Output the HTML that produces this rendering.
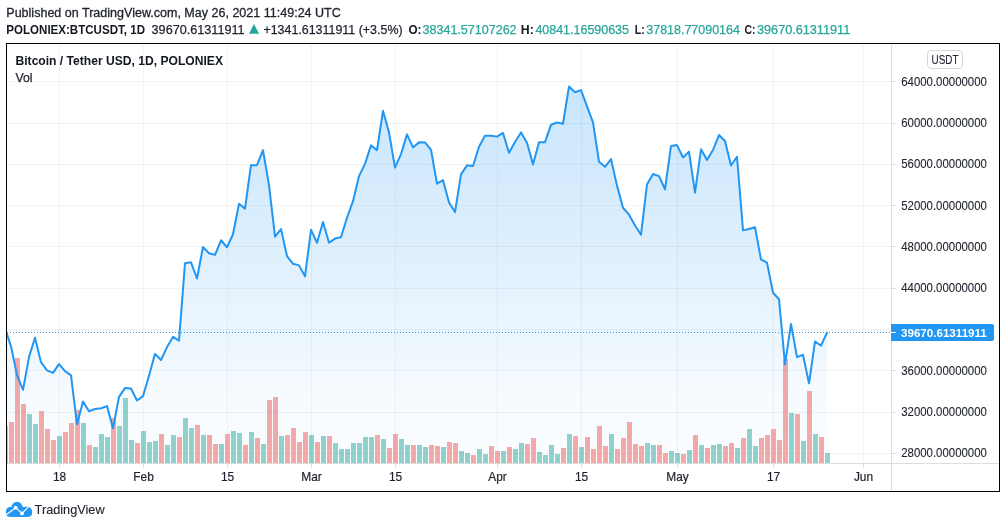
<!DOCTYPE html>
<html><head><meta charset="utf-8"><style>
html,body{margin:0;padding:0;background:#fff;width:1006px;height:528px;overflow:hidden}
svg{display:block;will-change:transform}
text{font-family:"Liberation Sans",sans-serif}
</style></head><body>
<svg width="1006" height="528" viewBox="0 0 1006 528">
<defs>
<linearGradient id="fill" x1="0" y1="44" x2="0" y2="462" gradientUnits="userSpaceOnUse">
<stop offset="0" stop-color="#2196f3" stop-opacity="0.27"/>
<stop offset="0.481" stop-color="#2196f3" stop-opacity="0.15"/>
<stop offset="0.84" stop-color="#2196f3" stop-opacity="0.042"/>
<stop offset="1" stop-color="#2196f3" stop-opacity="0.015"/>
</linearGradient>
<clipPath id="pane"><rect x="7" y="44" width="884" height="419"/></clipPath>
</defs>

<text x="6.3" y="16.8" font-size="12.5" fill="#1e222d" stroke="#1e222d" stroke-width="0.3" textLength="334.5" lengthAdjust="spacingAndGlyphs">Published on TradingView.com, May 26, 2021 11:49:24 UTC</text>
<text x="6.3" y="33.8" font-size="12.3" font-weight="bold" fill="#131722" textLength="138.7" lengthAdjust="spacingAndGlyphs">POLONIEX:BTCUSDT, 1D</text>
<text x="151.6" y="33.8" font-size="12.3" fill="#1e222d" stroke="#1e222d" stroke-width="0.25" textLength="93" lengthAdjust="spacingAndGlyphs">39670.61311911</text>
<text x="263.4" y="33.8" font-size="12.3" fill="#1e222d" stroke="#1e222d" stroke-width="0.25" textLength="139.2" lengthAdjust="spacingAndGlyphs">+1341.61311911 (+3.5%)</text>
<text x="408.5" y="33.8" font-size="12.3" font-weight="bold" fill="#131722" textLength="13" lengthAdjust="spacingAndGlyphs">O:</text>
<text x="422.5" y="33.8" font-size="12.3" fill="#26a69a" stroke="#26a69a" stroke-width="0.25" textLength="94.1" lengthAdjust="spacingAndGlyphs">38341.57107262</text>
<text x="520.8" y="33.8" font-size="12.3" font-weight="bold" fill="#131722" textLength="13" lengthAdjust="spacingAndGlyphs">H:</text>
<text x="535.4" y="33.8" font-size="12.3" fill="#26a69a" stroke="#26a69a" stroke-width="0.25" textLength="93.6" lengthAdjust="spacingAndGlyphs">40841.16590635</text>
<text x="634.8" y="33.8" font-size="12.3" font-weight="bold" fill="#131722" textLength="10" lengthAdjust="spacingAndGlyphs">L:</text>
<text x="646.3" y="33.8" font-size="12.3" fill="#26a69a" stroke="#26a69a" stroke-width="0.25" textLength="93.6" lengthAdjust="spacingAndGlyphs">37818.77090164</text>
<text x="744.6" y="33.8" font-size="12.3" font-weight="bold" fill="#131722" textLength="11" lengthAdjust="spacingAndGlyphs">C:</text>
<text x="757" y="33.8" font-size="12.3" fill="#26a69a" stroke="#26a69a" stroke-width="0.25" textLength="93.2" lengthAdjust="spacingAndGlyphs">39670.61311911</text>
<path d="M249 33.8 L253.9 24 L259.1 33.8 Z" fill="#26a69a"/>
<rect x="6.5" y="43.5" width="993" height="448" fill="none" stroke="#000" stroke-width="1"/>
<line x1="59.5" y1="44" x2="59.5" y2="463" stroke="rgba(42,46,57,0.06)"/>
<line x1="143.5" y1="44" x2="143.5" y2="463" stroke="rgba(42,46,57,0.06)"/>
<line x1="227.5" y1="44" x2="227.5" y2="463" stroke="rgba(42,46,57,0.06)"/>
<line x1="311.5" y1="44" x2="311.5" y2="463" stroke="rgba(42,46,57,0.06)"/>
<line x1="395.5" y1="44" x2="395.5" y2="463" stroke="rgba(42,46,57,0.06)"/>
<line x1="497.5" y1="44" x2="497.5" y2="463" stroke="rgba(42,46,57,0.06)"/>
<line x1="581.5" y1="44" x2="581.5" y2="463" stroke="rgba(42,46,57,0.06)"/>
<line x1="677.5" y1="44" x2="677.5" y2="463" stroke="rgba(42,46,57,0.06)"/>
<line x1="773.5" y1="44" x2="773.5" y2="463" stroke="rgba(42,46,57,0.06)"/>
<line x1="863.5" y1="44" x2="863.5" y2="463" stroke="rgba(42,46,57,0.06)"/>
<line x1="7" y1="81.5" x2="891" y2="81.5" stroke="rgba(42,46,57,0.06)"/>
<line x1="7" y1="123.5" x2="891" y2="123.5" stroke="rgba(42,46,57,0.06)"/>
<line x1="7" y1="164.5" x2="891" y2="164.5" stroke="rgba(42,46,57,0.06)"/>
<line x1="7" y1="205.5" x2="891" y2="205.5" stroke="rgba(42,46,57,0.06)"/>
<line x1="7" y1="246.5" x2="891" y2="246.5" stroke="rgba(42,46,57,0.06)"/>
<line x1="7" y1="288.5" x2="891" y2="288.5" stroke="rgba(42,46,57,0.06)"/>
<line x1="7" y1="329.5" x2="891" y2="329.5" stroke="rgba(42,46,57,0.06)"/>
<line x1="7" y1="370.5" x2="891" y2="370.5" stroke="rgba(42,46,57,0.06)"/>
<line x1="7" y1="412.5" x2="891" y2="412.5" stroke="rgba(42,46,57,0.06)"/>
<line x1="7" y1="453.5" x2="891" y2="453.5" stroke="rgba(42,46,57,0.06)"/>
<g clip-path="url(#pane)">
<rect x="3" y="426" width="5" height="37" fill="rgba(239,83,80,0.5)"/>
<rect x="9" y="422" width="5" height="41" fill="rgba(239,83,80,0.5)"/>
<rect x="15" y="358" width="5" height="105" fill="rgba(239,83,80,0.5)"/>
<rect x="21" y="404" width="5" height="59" fill="rgba(239,83,80,0.5)"/>
<rect x="27" y="414" width="5" height="49" fill="rgba(38,166,154,0.5)"/>
<rect x="33" y="424" width="5" height="39" fill="rgba(38,166,154,0.5)"/>
<rect x="39" y="411" width="5" height="52" fill="rgba(239,83,80,0.5)"/>
<rect x="45" y="429" width="5" height="34" fill="rgba(239,83,80,0.5)"/>
<rect x="51" y="440" width="5" height="23" fill="rgba(239,83,80,0.5)"/>
<rect x="57" y="436" width="5" height="27" fill="rgba(38,166,154,0.5)"/>
<rect x="63" y="432" width="5" height="31" fill="rgba(239,83,80,0.5)"/>
<rect x="69" y="423" width="5" height="40" fill="rgba(239,83,80,0.5)"/>
<rect x="75" y="410" width="5" height="53" fill="rgba(239,83,80,0.5)"/>
<rect x="81" y="423" width="5" height="40" fill="rgba(38,166,154,0.5)"/>
<rect x="87" y="445" width="5" height="18" fill="rgba(239,83,80,0.5)"/>
<rect x="93" y="447" width="5" height="16" fill="rgba(38,166,154,0.5)"/>
<rect x="99" y="434" width="5" height="29" fill="rgba(38,166,154,0.5)"/>
<rect x="105" y="437" width="5" height="26" fill="rgba(38,166,154,0.5)"/>
<rect x="111" y="418" width="5" height="45" fill="rgba(239,83,80,0.5)"/>
<rect x="117" y="426" width="5" height="37" fill="rgba(38,166,154,0.5)"/>
<rect x="123" y="398" width="5" height="65" fill="rgba(38,166,154,0.5)"/>
<rect x="129" y="440" width="5" height="23" fill="rgba(38,166,154,0.5)"/>
<rect x="135" y="443" width="5" height="20" fill="rgba(239,83,80,0.5)"/>
<rect x="141" y="431" width="5" height="32" fill="rgba(38,166,154,0.5)"/>
<rect x="147" y="442" width="5" height="21" fill="rgba(38,166,154,0.5)"/>
<rect x="153" y="441" width="5" height="22" fill="rgba(38,166,154,0.5)"/>
<rect x="159" y="434" width="5" height="29" fill="rgba(239,83,80,0.5)"/>
<rect x="165" y="445" width="5" height="18" fill="rgba(38,166,154,0.5)"/>
<rect x="171" y="435" width="5" height="28" fill="rgba(38,166,154,0.5)"/>
<rect x="177" y="437" width="5" height="26" fill="rgba(239,83,80,0.5)"/>
<rect x="183" y="418" width="5" height="45" fill="rgba(38,166,154,0.5)"/>
<rect x="189" y="428" width="5" height="35" fill="rgba(38,166,154,0.5)"/>
<rect x="195" y="425" width="5" height="38" fill="rgba(239,83,80,0.5)"/>
<rect x="201" y="435" width="5" height="28" fill="rgba(38,166,154,0.5)"/>
<rect x="207" y="435" width="5" height="28" fill="rgba(239,83,80,0.5)"/>
<rect x="213" y="444" width="5" height="19" fill="rgba(239,83,80,0.5)"/>
<rect x="219" y="444" width="5" height="19" fill="rgba(38,166,154,0.5)"/>
<rect x="225" y="434" width="5" height="29" fill="rgba(239,83,80,0.5)"/>
<rect x="231" y="431" width="5" height="32" fill="rgba(38,166,154,0.5)"/>
<rect x="237" y="433" width="5" height="30" fill="rgba(38,166,154,0.5)"/>
<rect x="243" y="445" width="5" height="18" fill="rgba(239,83,80,0.5)"/>
<rect x="249" y="432" width="5" height="31" fill="rgba(38,166,154,0.5)"/>
<rect x="255" y="438" width="5" height="25" fill="rgba(239,83,80,0.5)"/>
<rect x="261" y="444" width="5" height="19" fill="rgba(38,166,154,0.5)"/>
<rect x="267" y="400" width="5" height="63" fill="rgba(239,83,80,0.5)"/>
<rect x="273" y="397" width="5" height="66" fill="rgba(239,83,80,0.5)"/>
<rect x="279" y="436" width="5" height="27" fill="rgba(38,166,154,0.5)"/>
<rect x="285" y="435" width="5" height="28" fill="rgba(239,83,80,0.5)"/>
<rect x="291" y="428" width="5" height="35" fill="rgba(239,83,80,0.5)"/>
<rect x="297" y="442" width="5" height="21" fill="rgba(239,83,80,0.5)"/>
<rect x="303" y="432" width="5" height="31" fill="rgba(239,83,80,0.5)"/>
<rect x="309" y="435" width="5" height="28" fill="rgba(38,166,154,0.5)"/>
<rect x="315" y="442" width="5" height="21" fill="rgba(239,83,80,0.5)"/>
<rect x="321" y="436" width="5" height="27" fill="rgba(38,166,154,0.5)"/>
<rect x="327" y="436" width="5" height="27" fill="rgba(239,83,80,0.5)"/>
<rect x="333" y="443" width="5" height="20" fill="rgba(38,166,154,0.5)"/>
<rect x="339" y="449" width="5" height="14" fill="rgba(38,166,154,0.5)"/>
<rect x="345" y="449" width="5" height="14" fill="rgba(38,166,154,0.5)"/>
<rect x="351" y="443" width="5" height="20" fill="rgba(38,166,154,0.5)"/>
<rect x="357" y="443" width="5" height="20" fill="rgba(38,166,154,0.5)"/>
<rect x="363" y="437" width="5" height="26" fill="rgba(38,166,154,0.5)"/>
<rect x="369" y="437" width="5" height="26" fill="rgba(38,166,154,0.5)"/>
<rect x="375" y="435" width="5" height="28" fill="rgba(239,83,80,0.5)"/>
<rect x="381" y="439" width="5" height="24" fill="rgba(38,166,154,0.5)"/>
<rect x="387" y="448" width="5" height="15" fill="rgba(239,83,80,0.5)"/>
<rect x="393" y="434" width="5" height="29" fill="rgba(239,83,80,0.5)"/>
<rect x="399" y="439" width="5" height="24" fill="rgba(38,166,154,0.5)"/>
<rect x="405" y="445" width="5" height="18" fill="rgba(38,166,154,0.5)"/>
<rect x="411" y="445" width="5" height="18" fill="rgba(239,83,80,0.5)"/>
<rect x="417" y="445" width="5" height="18" fill="rgba(38,166,154,0.5)"/>
<rect x="423" y="447" width="5" height="16" fill="rgba(38,166,154,0.5)"/>
<rect x="429" y="445" width="5" height="18" fill="rgba(239,83,80,0.5)"/>
<rect x="435" y="446" width="5" height="17" fill="rgba(239,83,80,0.5)"/>
<rect x="441" y="447" width="5" height="16" fill="rgba(38,166,154,0.5)"/>
<rect x="447" y="442" width="5" height="21" fill="rgba(239,83,80,0.5)"/>
<rect x="453" y="443" width="5" height="20" fill="rgba(239,83,80,0.5)"/>
<rect x="459" y="451" width="5" height="12" fill="rgba(38,166,154,0.5)"/>
<rect x="465" y="453" width="5" height="10" fill="rgba(38,166,154,0.5)"/>
<rect x="471" y="455" width="5" height="8" fill="rgba(239,83,80,0.5)"/>
<rect x="477" y="449" width="5" height="14" fill="rgba(38,166,154,0.5)"/>
<rect x="483" y="454" width="5" height="9" fill="rgba(38,166,154,0.5)"/>
<rect x="489" y="446" width="5" height="17" fill="rgba(239,83,80,0.5)"/>
<rect x="495" y="451" width="5" height="12" fill="rgba(239,83,80,0.5)"/>
<rect x="501" y="451" width="5" height="12" fill="rgba(38,166,154,0.5)"/>
<rect x="507" y="447" width="5" height="16" fill="rgba(239,83,80,0.5)"/>
<rect x="513" y="449" width="5" height="14" fill="rgba(38,166,154,0.5)"/>
<rect x="519" y="443" width="5" height="20" fill="rgba(38,166,154,0.5)"/>
<rect x="525" y="444" width="5" height="19" fill="rgba(239,83,80,0.5)"/>
<rect x="531" y="438" width="5" height="25" fill="rgba(239,83,80,0.5)"/>
<rect x="537" y="452" width="5" height="11" fill="rgba(38,166,154,0.5)"/>
<rect x="543" y="455" width="5" height="8" fill="rgba(38,166,154,0.5)"/>
<rect x="549" y="445" width="5" height="18" fill="rgba(38,166,154,0.5)"/>
<rect x="555" y="454" width="5" height="9" fill="rgba(38,166,154,0.5)"/>
<rect x="561" y="448" width="5" height="15" fill="rgba(239,83,80,0.5)"/>
<rect x="567" y="434" width="5" height="29" fill="rgba(38,166,154,0.5)"/>
<rect x="573" y="436" width="5" height="27" fill="rgba(239,83,80,0.5)"/>
<rect x="579" y="447" width="5" height="16" fill="rgba(38,166,154,0.5)"/>
<rect x="585" y="437" width="5" height="26" fill="rgba(239,83,80,0.5)"/>
<rect x="591" y="449" width="5" height="14" fill="rgba(239,83,80,0.5)"/>
<rect x="597" y="426" width="5" height="37" fill="rgba(239,83,80,0.5)"/>
<rect x="603" y="446" width="5" height="17" fill="rgba(239,83,80,0.5)"/>
<rect x="609" y="434" width="5" height="29" fill="rgba(38,166,154,0.5)"/>
<rect x="615" y="449" width="5" height="14" fill="rgba(239,83,80,0.5)"/>
<rect x="621" y="438" width="5" height="25" fill="rgba(239,83,80,0.5)"/>
<rect x="627" y="422" width="5" height="41" fill="rgba(239,83,80,0.5)"/>
<rect x="633" y="444" width="5" height="19" fill="rgba(239,83,80,0.5)"/>
<rect x="639" y="446" width="5" height="17" fill="rgba(239,83,80,0.5)"/>
<rect x="645" y="443" width="5" height="20" fill="rgba(38,166,154,0.5)"/>
<rect x="651" y="445" width="5" height="18" fill="rgba(38,166,154,0.5)"/>
<rect x="657" y="445" width="5" height="18" fill="rgba(239,83,80,0.5)"/>
<rect x="663" y="453" width="5" height="10" fill="rgba(239,83,80,0.5)"/>
<rect x="669" y="451" width="5" height="12" fill="rgba(38,166,154,0.5)"/>
<rect x="675" y="453" width="5" height="10" fill="rgba(38,166,154,0.5)"/>
<rect x="681" y="454" width="5" height="9" fill="rgba(239,83,80,0.5)"/>
<rect x="687" y="450" width="5" height="13" fill="rgba(38,166,154,0.5)"/>
<rect x="693" y="435" width="5" height="28" fill="rgba(239,83,80,0.5)"/>
<rect x="699" y="445" width="5" height="18" fill="rgba(38,166,154,0.5)"/>
<rect x="705" y="448" width="5" height="15" fill="rgba(239,83,80,0.5)"/>
<rect x="711" y="445" width="5" height="18" fill="rgba(38,166,154,0.5)"/>
<rect x="717" y="444" width="5" height="19" fill="rgba(38,166,154,0.5)"/>
<rect x="723" y="446" width="5" height="17" fill="rgba(239,83,80,0.5)"/>
<rect x="729" y="443" width="5" height="20" fill="rgba(239,83,80,0.5)"/>
<rect x="735" y="448" width="5" height="15" fill="rgba(38,166,154,0.5)"/>
<rect x="741" y="438" width="5" height="25" fill="rgba(239,83,80,0.5)"/>
<rect x="747" y="429" width="5" height="34" fill="rgba(38,166,154,0.5)"/>
<rect x="753" y="446" width="5" height="17" fill="rgba(38,166,154,0.5)"/>
<rect x="759" y="438" width="5" height="25" fill="rgba(239,83,80,0.5)"/>
<rect x="765" y="435" width="5" height="28" fill="rgba(239,83,80,0.5)"/>
<rect x="771" y="429" width="5" height="34" fill="rgba(239,83,80,0.5)"/>
<rect x="777" y="440" width="5" height="23" fill="rgba(239,83,80,0.5)"/>
<rect x="783" y="359" width="5" height="104" fill="rgba(239,83,80,0.5)"/>
<rect x="789" y="413" width="5" height="50" fill="rgba(38,166,154,0.5)"/>
<rect x="795" y="414" width="5" height="49" fill="rgba(239,83,80,0.5)"/>
<rect x="801" y="441" width="5" height="22" fill="rgba(38,166,154,0.5)"/>
<rect x="807" y="391" width="5" height="72" fill="rgba(239,83,80,0.5)"/>
<rect x="813" y="434" width="5" height="29" fill="rgba(38,166,154,0.5)"/>
<rect x="819" y="437" width="5" height="26" fill="rgba(239,83,80,0.5)"/>
<rect x="825" y="453" width="5" height="10" fill="rgba(38,166,154,0.5)"/>
<path d="M5,328.21 L11,346.32 L17,375.15 L23,389.84 L29,357.07 L35,337.73 L41,362.14 L47,370.32 L53,372.81 L59,364.15 L65,371.15 L71,375.33 L77,424.14 L83,401.61 L89,411.30 L95,409.01 L101,408.22 L107,406.12 L113,428.20 L119,396.85 L125,388.07 L131,388.55 L137,400.49 L143,396.11 L149,375.73 L155,353.85 L161,360.00 L167,347.11 L173,336.92 L179,340.67 L185,263.31 L191,262.36 L197,278.51 L203,247.01 L209,253.19 L215,254.91 L221,240.26 L227,247.23 L233,234.28 L239,203.79 L245,208.65 L251,165.16 L257,165.17 L263,150.24 L269,185.17 L275,236.73 L281,229.11 L287,256.03 L293,263.83 L299,265.39 L305,276.25 L311,229.81 L317,242.76 L323,222.04 L329,242.77 L335,238.59 L341,237.24 L347,217.74 L353,201.19 L359,176.15 L365,163.92 L371,145.35 L377,150.24 L383,110.82 L389,132.48 L395,167.56 L401,154.09 L407,134.34 L413,147.40 L419,142.36 L425,142.40 L431,149.76 L437,183.70 L443,180.14 L449,202.43 L455,212.09 L461,174.32 L467,165.37 L473,165.95 L479,146.82 L485,135.85 L491,135.85 L497,136.62 L503,132.93 L509,152.82 L515,141.98 L521,132.41 L527,142.75 L533,164.39 L539,142.19 L545,142.20 L551,124.80 L557,122.56 L563,123.77 L569,86.47 L575,92.24 L581,90.11 L587,106.42 L593,122.40 L599,161.77 L605,166.84 L611,159.11 L617,185.63 L623,207.78 L629,214.69 L635,225.48 L641,234.69 L647,184.45 L653,173.99 L659,176.15 L665,189.26 L671,145.92 L677,145.11 L683,157.48 L689,151.60 L695,192.56 L701,149.28 L707,159.90 L713,149.98 L719,135.03 L725,140.94 L731,165.46 L737,156.72 L743,230.38 L749,228.93 L755,227.24 L761,259.48 L767,262.62 L773,292.77 L779,299.27 L785,364.40 L791,323.93 L797,357.19 L803,354.79 L809,383.37 L815,341.51 L821,345.60 L827,332.73 L827,463 L5,463 Z" fill="url(#fill)"/>
<path d="M5,328.21 L11,346.32 L17,375.15 L23,389.84 L29,357.07 L35,337.73 L41,362.14 L47,370.32 L53,372.81 L59,364.15 L65,371.15 L71,375.33 L77,424.14 L83,401.61 L89,411.30 L95,409.01 L101,408.22 L107,406.12 L113,428.20 L119,396.85 L125,388.07 L131,388.55 L137,400.49 L143,396.11 L149,375.73 L155,353.85 L161,360.00 L167,347.11 L173,336.92 L179,340.67 L185,263.31 L191,262.36 L197,278.51 L203,247.01 L209,253.19 L215,254.91 L221,240.26 L227,247.23 L233,234.28 L239,203.79 L245,208.65 L251,165.16 L257,165.17 L263,150.24 L269,185.17 L275,236.73 L281,229.11 L287,256.03 L293,263.83 L299,265.39 L305,276.25 L311,229.81 L317,242.76 L323,222.04 L329,242.77 L335,238.59 L341,237.24 L347,217.74 L353,201.19 L359,176.15 L365,163.92 L371,145.35 L377,150.24 L383,110.82 L389,132.48 L395,167.56 L401,154.09 L407,134.34 L413,147.40 L419,142.36 L425,142.40 L431,149.76 L437,183.70 L443,180.14 L449,202.43 L455,212.09 L461,174.32 L467,165.37 L473,165.95 L479,146.82 L485,135.85 L491,135.85 L497,136.62 L503,132.93 L509,152.82 L515,141.98 L521,132.41 L527,142.75 L533,164.39 L539,142.19 L545,142.20 L551,124.80 L557,122.56 L563,123.77 L569,86.47 L575,92.24 L581,90.11 L587,106.42 L593,122.40 L599,161.77 L605,166.84 L611,159.11 L617,185.63 L623,207.78 L629,214.69 L635,225.48 L641,234.69 L647,184.45 L653,173.99 L659,176.15 L665,189.26 L671,145.92 L677,145.11 L683,157.48 L689,151.60 L695,192.56 L701,149.28 L707,159.90 L713,149.98 L719,135.03 L725,140.94 L731,165.46 L737,156.72 L743,230.38 L749,228.93 L755,227.24 L761,259.48 L767,262.62 L773,292.77 L779,299.27 L785,364.40 L791,323.93 L797,357.19 L803,354.79 L809,383.37 L815,341.51 L821,345.60 L827,332.73" fill="none" stroke="#2196f3" stroke-width="2" stroke-linejoin="round" stroke-linecap="round"/>
</g>
<line x1="7" y1="332.5" x2="891" y2="332.5" stroke="#2196f3" stroke-width="1" stroke-dasharray="1 2"/>
<line x1="891.5" y1="44" x2="891.5" y2="491" stroke="#dcdde0"/>
<line x1="7" y1="463.5" x2="999" y2="463.5" stroke="#dcdde0"/>
<line x1="892" y1="81.5" x2="896" y2="81.5" stroke="#dcdde0"/>
<text x="901.2" y="86" font-size="12.4" fill="#1e222d" stroke="#1e222d" stroke-width="0.1" textLength="85.7" lengthAdjust="spacingAndGlyphs">64000.00000000</text>
<line x1="892" y1="123.5" x2="896" y2="123.5" stroke="#dcdde0"/>
<text x="901.2" y="127" font-size="12.4" fill="#1e222d" stroke="#1e222d" stroke-width="0.1" textLength="85.7" lengthAdjust="spacingAndGlyphs">60000.00000000</text>
<line x1="892" y1="164.5" x2="896" y2="164.5" stroke="#dcdde0"/>
<text x="901.2" y="168" font-size="12.4" fill="#1e222d" stroke="#1e222d" stroke-width="0.1" textLength="85.7" lengthAdjust="spacingAndGlyphs">56000.00000000</text>
<line x1="892" y1="205.5" x2="896" y2="205.5" stroke="#dcdde0"/>
<text x="901.2" y="210" font-size="12.4" fill="#1e222d" stroke="#1e222d" stroke-width="0.1" textLength="85.7" lengthAdjust="spacingAndGlyphs">52000.00000000</text>
<line x1="892" y1="246.5" x2="896" y2="246.5" stroke="#dcdde0"/>
<text x="901.2" y="251" font-size="12.4" fill="#1e222d" stroke="#1e222d" stroke-width="0.1" textLength="85.7" lengthAdjust="spacingAndGlyphs">48000.00000000</text>
<line x1="892" y1="288.5" x2="896" y2="288.5" stroke="#dcdde0"/>
<text x="901.2" y="292" font-size="12.4" fill="#1e222d" stroke="#1e222d" stroke-width="0.1" textLength="85.7" lengthAdjust="spacingAndGlyphs">44000.00000000</text>
<line x1="892" y1="329.5" x2="896" y2="329.5" stroke="#dcdde0"/>
<line x1="892" y1="370.5" x2="896" y2="370.5" stroke="#dcdde0"/>
<text x="901.2" y="375" font-size="12.4" fill="#1e222d" stroke="#1e222d" stroke-width="0.1" textLength="85.7" lengthAdjust="spacingAndGlyphs">36000.00000000</text>
<line x1="892" y1="412.5" x2="896" y2="412.5" stroke="#dcdde0"/>
<text x="901.2" y="416" font-size="12.4" fill="#1e222d" stroke="#1e222d" stroke-width="0.1" textLength="85.7" lengthAdjust="spacingAndGlyphs">32000.00000000</text>
<line x1="892" y1="453.5" x2="896" y2="453.5" stroke="#dcdde0"/>
<text x="901.2" y="457" font-size="12.4" fill="#1e222d" stroke="#1e222d" stroke-width="0.1" textLength="85.7" lengthAdjust="spacingAndGlyphs">28000.00000000</text>
<line x1="59.5" y1="464" x2="59.5" y2="468" stroke="#dcdde0"/>
<text x="59.5" y="480.8" font-size="11.9" fill="#1e222d" stroke="#1e222d" stroke-width="0.2" text-anchor="middle">18</text>
<line x1="143.5" y1="464" x2="143.5" y2="468" stroke="#dcdde0"/>
<text x="143.5" y="480.8" font-size="11.9" fill="#1e222d" stroke="#1e222d" stroke-width="0.2" text-anchor="middle">Feb</text>
<line x1="227.5" y1="464" x2="227.5" y2="468" stroke="#dcdde0"/>
<text x="227.5" y="480.8" font-size="11.9" fill="#1e222d" stroke="#1e222d" stroke-width="0.2" text-anchor="middle">15</text>
<line x1="311.5" y1="464" x2="311.5" y2="468" stroke="#dcdde0"/>
<text x="311.5" y="480.8" font-size="11.9" fill="#1e222d" stroke="#1e222d" stroke-width="0.2" text-anchor="middle">Mar</text>
<line x1="395.5" y1="464" x2="395.5" y2="468" stroke="#dcdde0"/>
<text x="395.5" y="480.8" font-size="11.9" fill="#1e222d" stroke="#1e222d" stroke-width="0.2" text-anchor="middle">15</text>
<line x1="497.5" y1="464" x2="497.5" y2="468" stroke="#dcdde0"/>
<text x="497.5" y="480.8" font-size="11.9" fill="#1e222d" stroke="#1e222d" stroke-width="0.2" text-anchor="middle">Apr</text>
<line x1="581.5" y1="464" x2="581.5" y2="468" stroke="#dcdde0"/>
<text x="581.5" y="480.8" font-size="11.9" fill="#1e222d" stroke="#1e222d" stroke-width="0.2" text-anchor="middle">15</text>
<line x1="677.5" y1="464" x2="677.5" y2="468" stroke="#dcdde0"/>
<text x="677.5" y="480.8" font-size="11.9" fill="#1e222d" stroke="#1e222d" stroke-width="0.2" text-anchor="middle">May</text>
<line x1="773.5" y1="464" x2="773.5" y2="468" stroke="#dcdde0"/>
<text x="773.5" y="480.8" font-size="11.9" fill="#1e222d" stroke="#1e222d" stroke-width="0.2" text-anchor="middle">17</text>
<line x1="863.5" y1="464" x2="863.5" y2="468" stroke="#dcdde0"/>
<text x="863.5" y="480.8" font-size="11.9" fill="#1e222d" stroke="#1e222d" stroke-width="0.2" text-anchor="middle">Jun</text>
<path d="M891 324 H992 Q994 324 994 326 V339 Q994 341 992 341 H891 Z" fill="#2196f3"/>
<line x1="891" y1="332.5" x2="896" y2="332.5" stroke="#fff"/>
<text x="901" y="336.6" font-size="11.8" font-weight="bold" fill="#fff" textLength="85.8" lengthAdjust="spacingAndGlyphs">39670.61311911</text>
<rect x="927.5" y="50.5" width="35" height="18" rx="3.5" fill="#fff" stroke="#d4d7df"/>
<text x="931.6" y="64" font-size="12.5" fill="#1e222d" stroke="#1e222d" stroke-width="0.1" textLength="27" lengthAdjust="spacingAndGlyphs">USDT</text>
<text x="15.5" y="64.8" font-size="12.1" font-weight="bold" fill="#131722" textLength="207.5" lengthAdjust="spacingAndGlyphs">Bitcoin / Tether USD, 1D, POLONIEX</text>
<text x="15.5" y="81.7" font-size="12.3" fill="#1e222d" stroke="#1e222d" stroke-width="0.25">Vol</text>
<g fill="#2196f3">
<circle cx="10.2" cy="511.3" r="4.2"/>
<circle cx="17" cy="507.4" r="5.6"/>
<circle cx="27" cy="511.6" r="5"/>
<rect x="6" y="509" width="26" height="7.7" rx="3.8"/>
<rect x="10" y="507" width="18" height="9.7"/>
</g>
<polyline points="6.2,514.7 15.7,507.7 22,513.4 29.2,506" fill="none" stroke="#fff" stroke-width="1.1"/>
<circle cx="15.7" cy="507.7" r="1.9" fill="#fff"/>
<circle cx="22" cy="513.4" r="1.9" fill="#fff"/>
<text x="34.6" y="514" font-size="12.7" fill="#1e222d" stroke="#1e222d" stroke-width="0.12" textLength="70" lengthAdjust="spacingAndGlyphs">TradingView</text>
</svg></body></html>
